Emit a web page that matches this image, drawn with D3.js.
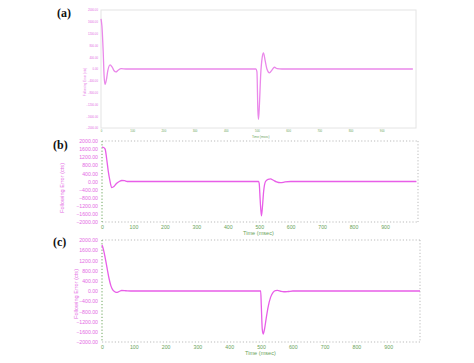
<!DOCTYPE html>
<html lang="en">
<head>
  <meta charset="utf-8">
  <title>following error</title>
  <script src="https://d3js.org/d3.v7.min.js"></script>
  <style>
    body { margin: 0; background: #fff; }
    .axis path.domain { display: none; }
    .panelTag { font-family: "Liberation Serif", serif; font-weight: bold; font-size: 12px; fill: #111; }
  </style>
</head>
<body>
<script>
  // ticks shared by the three panels
  const yTicks = [2000, 1600, 1200, 800, 400, 0, -400, -800, -1200, -1600, -2000];
  const xTicks = [0, 100, 200, 300, 400, 500, 600, 700, 800, 900];

  // (a) following error, cts
  const timeA = [0, 3, 7, 10, 13, 17, 22, 29, 36, 42, 48, 55, 65, 80, 497, 500, 503, 505, 508, 512, 517, 521, 526, 532, 540, 548, 556, 565, 580, 1000];
  const errA = [1700, 1450, 600, -250, -520, -380, -50, 140, 60, -60, -100, -40, 10, 0, 0, -100, -1400, -1710, -1200, -200, 400, 550, 300, 0, -130, -40, 60, 10, 0, 0];

  // (b)
  const timeB = [0, 5, 10, 15, 20, 25, 31, 38, 46, 55, 63, 72, 80, 498, 500, 503, 507, 510, 514, 520, 528, 536, 545, 555, 568, 582, 600, 1000];
  const errB = [1700, 1680, 1600, 1100, 500, 50, -300, -250, -100, 0, 50, 40, 0, 0, -100, -900, -1700, -1300, -500, 0, 110, 130, 60, -20, -60, -20, 0, 0];

  // (c)
  const timeC = [0, 4, 10, 16, 22, 28, 35, 42, 48, 55, 62, 75, 90, 499, 501, 504, 507, 511, 516, 522, 530, 538, 545, 552, 562, 572, 585, 600, 1000];
  const errC = [1800, 1650, 1300, 900, 500, 200, 20, -40, -50, -10, 20, 10, 0, 0, -600, -1500, -1690, -1500, -1100, -650, -250, -50, 15, 25, -10, -30, -20, 0, 0];

  const width = 474, height = 363;
  const svg = d3.select("body").append("svg")
    .attr("width", width).attr("height", height);
  svg.append("rect").attr("width", width).attr("height", height).attr("fill", "#fff");

  const pink = "#e46ce4", green = "#6aa45a";
  const font = "Liberation Sans";

  function drawPanel(cfg, times, errs) {
    const pts = times.map((t, i) => [t, errs[i]]);
    const x = d3.scaleLinear().domain([0, cfg.xMax]).range([cfg.left, cfg.right]);
    const y = d3.scaleLinear().domain([-2000, 2000]).range([cfg.bottom, cfg.top]);
    const g = svg.append("g");

    // frame
    if (cfg.dotted) {
      const dash = "1.2,2";
      g.append("line").attr("x1", cfg.left).attr("x2", cfg.right).attr("y1", cfg.top).attr("y2", cfg.top)
        .attr("stroke", "#bbb").attr("stroke-dasharray", dash);
      g.append("line").attr("x1", cfg.left).attr("x2", cfg.right).attr("y1", cfg.bottom).attr("y2", cfg.bottom)
        .attr("stroke", "#bbb").attr("stroke-dasharray", dash);
      g.append("line").attr("x1", cfg.right).attr("x2", cfg.right).attr("y1", cfg.top).attr("y2", cfg.bottom)
        .attr("stroke", "#bbb").attr("stroke-dasharray", dash);
      g.append("line").attr("x1", cfg.left).attr("x2", cfg.left).attr("y1", cfg.top).attr("y2", cfg.bottom)
        .attr("stroke", green).attr("stroke-dasharray", dash);
    } else {
      g.append("rect").attr("x", cfg.left).attr("y", cfg.top)
        .attr("width", cfg.right - cfg.left).attr("height", cfg.bottom - cfg.top)
        .attr("fill", "none").attr("stroke", "#e4e4e4");
    }

    // axes
    const yAxis = d3.axisLeft(y).tickValues(yTicks).tickSize(0).tickPadding(cfg.yPad)
      .tickFormat(d3.format(".2f"));
    g.append("g").attr("class", "axis").attr("transform", `translate(${cfg.left},0)`).call(yAxis)
      .selectAll("text").attr("fill", pink).style("font-family", font).style("font-size", cfg.tickFont + "px");
    const xAxis = d3.axisBottom(x).tickValues(xTicks).tickSize(0).tickPadding(cfg.xPad)
      .tickFormat(d3.format("d"));
    g.append("g").attr("class", "axis").attr("transform", `translate(0,${cfg.bottom})`).call(xAxis)
      .selectAll("text").attr("fill", green).style("font-family", font).style("font-size", cfg.tickFont + "px");

    // titles
    g.append("text").text("Time (msec)")
      .attr("x", cfg.xTitleX).attr("y", cfg.xTitleY)
      .attr("fill", green).style("font-family", font).style("font-size", cfg.titleFont + "px");
    g.append("text").text("Following Error (cts)")
      .attr("transform", `translate(${cfg.yTitleX},${cfg.yTitleY}) rotate(-90)`)
      .attr("text-anchor", "middle")
      .attr("fill", pink).style("font-family", font).style("font-size", cfg.titleFont + "px");
    g.append("text").attr("class", "panelTag").text(cfg.tag).attr("x", cfg.tagX).attr("y", cfg.tagY);

    // curve
    const line = d3.line().x(d => x(d[0])).y(d => y(d[1])).curve(d3.curveMonotoneX);
    g.append("path").datum(pts).attr("d", line)
      .attr("fill", "none").attr("stroke", cfg.color).attr("stroke-width", 1.3);
  }

  drawPanel({ tag: "(a)", tagX: 57, tagY: 17, left: 101, right: 416, top: 10, bottom: 128, xMax: 1010,
    dotted: false, tickFont: 2.8, titleFont: 3.2, yPad: 3, xPad: 2, xTitleX: 252, xTitleY: 138,
    yTitleX: 86, yTitleY: 82, color: "#ea88ea" }, timeA, errA);

  drawPanel({ tag: "(b)", tagX: 53, tagY: 149, left: 102, right: 418, top: 141, bottom: 222, xMax: 1005,
    dotted: true, tickFont: 5.2, titleFont: 5.6, yPad: 4, xPad: 3, xTitleX: 243, xTitleY: 235,
    yTitleX: 64, yTitleY: 188, color: "#e85ee8" }, timeB, errB);

  drawPanel({ tag: "(c)", tagX: 53, tagY: 246, left: 102, right: 420, top: 240, bottom: 342, xMax: 1000,
    dotted: true, tickFont: 5.2, titleFont: 5.6, yPad: 4, xPad: 3, xTitleX: 245, xTitleY: 355,
    yTitleX: 78, yTitleY: 294, color: "#e85ee8" }, timeC, errC);
</script>
</body>
</html>
